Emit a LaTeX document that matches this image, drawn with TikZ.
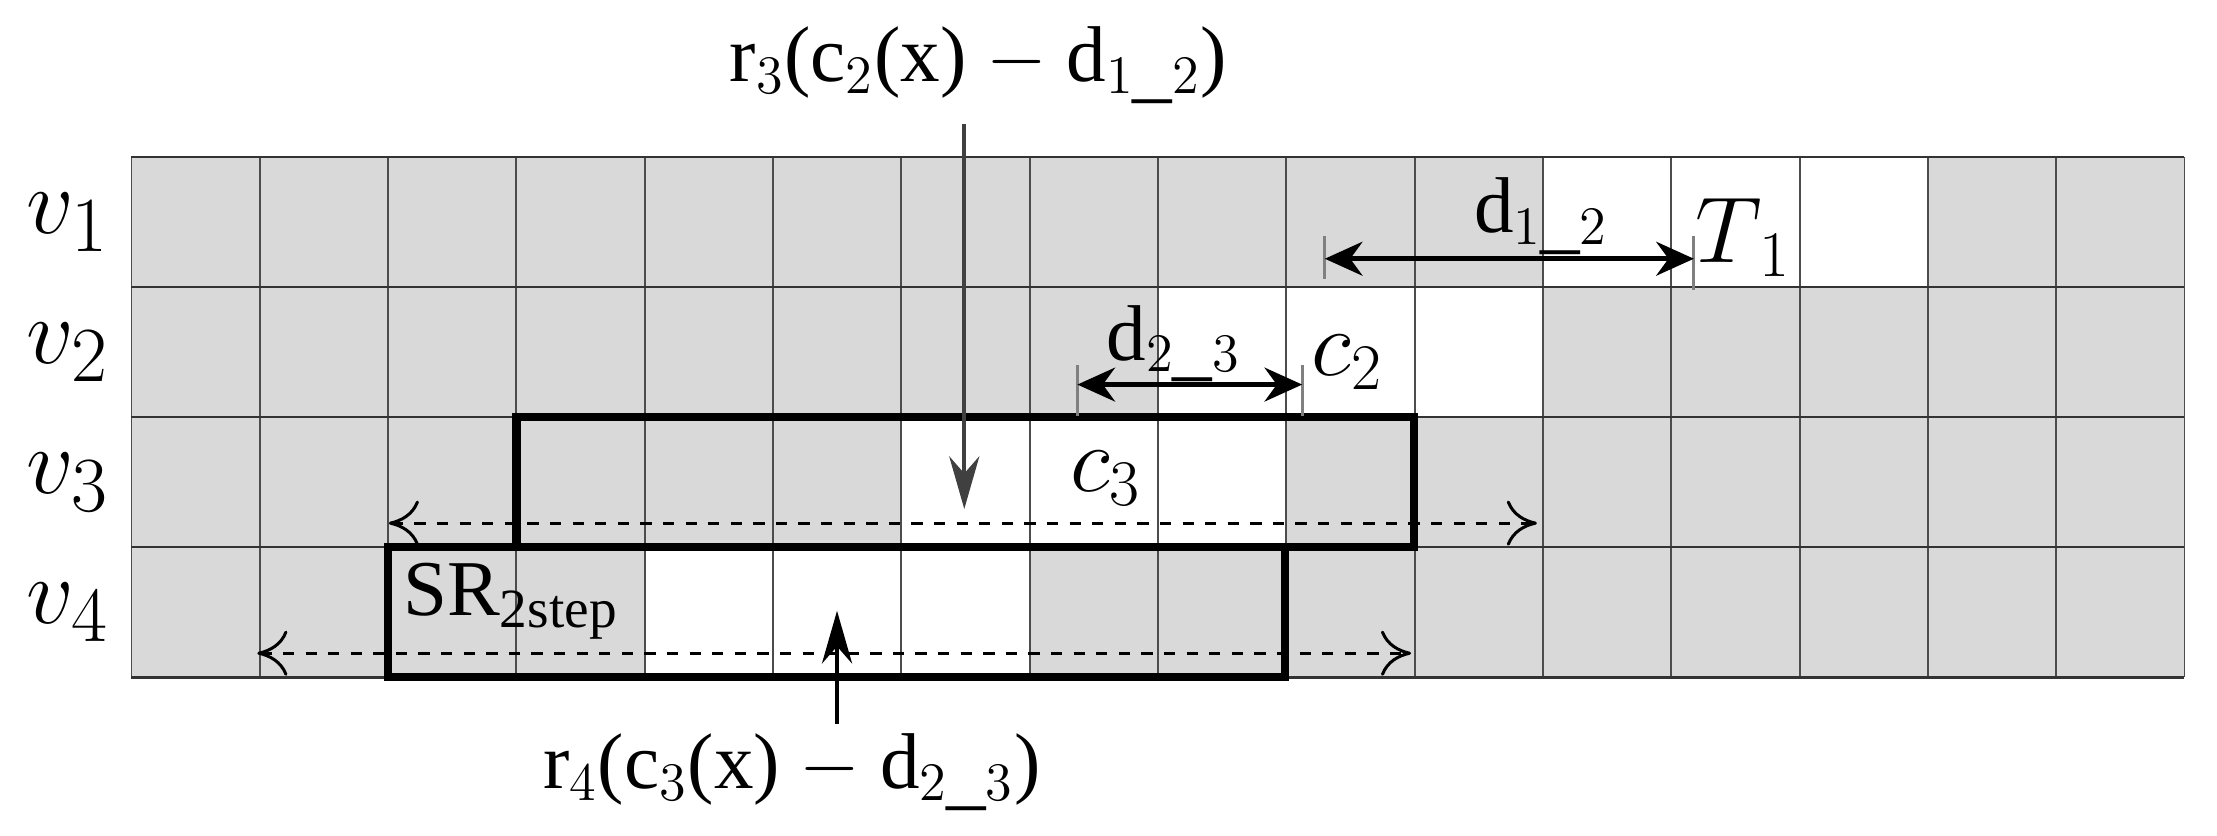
\documentclass[tikz,border=0pt]{standalone}
\usepackage{fontspec}
\setmainfont{Liberation Serif}
\usetikzlibrary{arrows.meta}
\begin{document}
\begin{tikzpicture}[x=0.0132cm,y=-0.0132cm,
  cell/.style={fill=white,draw=none},
  big/.style={font=\fontsize{21}{24}\selectfont,inner sep=1pt},
  mbig/.style={font=\fontsize{25}{28}\selectfont,inner sep=1pt},
  bold/.style={line width=2.2pt,draw=black},
  dashar/.style={dashed,line width=0.8pt,{To[length=8pt,width=12pt]}-{To[length=8pt,width=12pt]}},
  dimar/.style={line width=1.2pt,{Stealth[length=10pt,width=9pt]}-{Stealth[length=10pt,width=9pt]}},
  tick/.style={line width=0.8pt,draw=gray},
  callar/.style={line width=1pt,draw=black!75,-{Stealth[length=14pt,width=8pt]}}]
\useasboundingbox (0,0) rectangle (1568,591);
% grey background
\fill[black!15] (93,111) rectangle (1545,479);
% white cells
\fill[cell] (1091,111) rectangle (1363,203);
\fill[cell] (819,203) rectangle (1091,295);
\fill[cell] (637.5,295) rectangle (909.75,387);
\fill[cell] (456,387) rectangle (728.25,479);
% grid
\foreach \i in {0,...,16} \draw[black!70,line width=0.5pt] ({93+90.75*\i},111) -- ({93+90.75*\i},479);
\foreach \j in {0,...,4} \draw[black!80,line width=0.7pt] (93,{111+92*\j}) -- (1545,{111+92*\j});
% bold rectangles
\draw[bold] (365.25,295) rectangle (1000,387);
\draw[bold] (274.5,387) rectangle (909,479);
% row labels
\node[big,font=\fontsize{28}{30}\selectfont] (v1) at (48,157) {$v_1$};
\node[big,font=\fontsize{28}{30}\selectfont] (v2) at (48,249) {$v_2$};
\node[big,font=\fontsize{28}{30}\selectfont] (v3) at (48,341) {$v_3$};
\node[big,font=\fontsize{28}{30}\selectfont] (v4) at (48,433) {$v_4$};
% dashed arrows
\coordinate (a3l) at (275,370); \coordinate (a3r) at (1087,370);
\draw[dashar] (a3l) -- (a3r);
\coordinate (a4l) at (182,462); \coordinate (a4r) at (998,462);
\draw[dashar] (a4l) -- (a4r);
% d1_2
\coordinate (t1a) at (937,167); \coordinate (t1b) at (937,197);
\coordinate (t2a) at (1198,167); \coordinate (t2b) at (1198,205);
\draw[tick] (t1a) -- (t1b); \draw[tick] (t2a) -- (t2b);
\coordinate (d12l) at (937,183); \coordinate (d12r) at (1198,183);
\draw[dimar] (d12l) -- (d12r);
\node[big] (d12) at (1090,153) {d$_{1\_2}$};
\node[mbig] (T1) at (1233,168) {$T_{\,1}$};
% d2_3
\coordinate (t3a) at (762,258); \coordinate (t3b) at (762,294);
\coordinate (t4a) at (921,258); \coordinate (t4b) at (921,294);
\draw[tick] (t3a) -- (t3b); \draw[tick] (t4a) -- (t4b);
\coordinate (d23l) at (762,272); \coordinate (d23r) at (921,272);
\draw[dimar] (d23l) -- (d23r);
\node[big] (d23) at (830,243) {d$_{2\_3}$};
\node[mbig] (c2) at (953,256) {$c_2$};
\node[mbig] (c3) at (782,338) {$c_3$};
\node[big,anchor=west] (sr) at (282,425) {SR$_{\mathrm{2step}}$};
% callouts
\node[big] (r3) at (692,46) {r$_3$(c$_2$(x) $-$ d$_{1\_2}$)};
\coordinate (r3s) at (682,88); \coordinate (r3e) at (682,360);
\draw[callar] (r3s) -- (r3e);
\node[big] (r4) at (560,546) {r$_4$(c$_3$(x) $-$ d$_{2\_3}$)};
\coordinate (r4s) at (592,512); \coordinate (r4e) at (592,432);
\draw[callar,draw=black] (r4s) -- (r4e);
\end{tikzpicture}
\end{document}
